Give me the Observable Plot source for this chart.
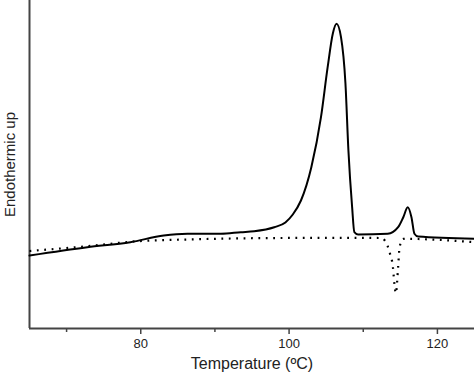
<!DOCTYPE html>
<html>
<head>
<meta charset="utf-8">
<script src="https://cdn.jsdelivr.net/npm/d3@7"></script>
<script src="https://cdn.jsdelivr.net/npm/@observablehq/plot@0.6"></script>
<style>
  html, body { margin: 0; padding: 0; background: #fff; }
  #chart { width: 474px; height: 377px; }
</style>
</head>
<body>
<div id="chart"></div>
<script>
// Heating scan (solid)
const heatT = [65.0, 72.8, 78.6, 83.1, 86.3, 90.8, 93.5, 95.3, 98.0, 99.5, 100.5, 101.6, 103.0, 104.3, 105.2, 105.9, 106.4, 107.0, 107.6, 108.0, 108.5, 108.8, 109.3, 113.3, 114.7, 115.4, 116.0, 116.5, 116.9, 117.4, 125.0];
const heatQ = [73, 81.3, 86.3, 93, 94.7, 94.7, 96.3, 97.3, 101.3, 106, 114, 128, 161.3, 211.3, 261.3, 295, 304.7, 291.3, 245, 178, 121.3, 96.3, 94, 94.7, 101.3, 111.3, 121.3, 111.3, 94.7, 92, 89.7];
// Second scan (dotted)
const dotT = [65.0, 72.8, 79.6, 86.3, 95.3, 107.0, 112.4, 112.9, 113.6, 114.0, 114.2, 114.4, 114.7, 114.9, 115.4, 125.0];
const dotQ = [77.5, 82.3, 87.3, 89, 90.3, 90.7, 90.5, 88, 75, 61.3, 44.7, 35.3, 61.3, 81.3, 89.7, 86.3];
const majorTicks = [80, 100, 120];
const minorTicks = [70, 90, 110];
const xLabel = "Temperature (ºC)";
const yLabel = "Endothermic up";

const heat = heatT.map((t, i) => ({t, q: heatQ[i]}));
const dots = dotT.map((t, i) => ({t, q: dotQ[i]}));

const chart = Plot.plot({
  width: 474,
  height: 377,
  marginLeft: 29,
  marginRight: 0,
  marginTop: 0,
  marginBottom: 49,
  style: {fontFamily: "'Liberation Sans', Arial, sans-serif", color: "#222", background: "#fff"},
  x: {domain: [65, 125]},
  y: {domain: [0, 328], axis: null},
  marks: [
    Plot.axisX({ticks: minorTicks, tickSize: 4, tickFormat: () => "", label: null, stroke: "#444", strokeWidth: 1.5}),
    Plot.axisX({ticks: majorTicks, tickSize: 6, tickPadding: 4, label: null, fontSize: 13, stroke: "#444", strokeWidth: 1.5}),
    Plot.ruleY([0], {stroke: "#444", strokeWidth: 2}),
    Plot.ruleX([65], {stroke: "#444", strokeWidth: 2}),
    Plot.line(dots, {x: "t", y: "q", stroke: "#000", strokeWidth: 2.2, strokeDasharray: "1.8,5.6", strokeLinecap: "butt", curve: "monotone-x"}),
    Plot.line(heat, {x: "t", y: "q", stroke: "#000", strokeWidth: 2, curve: "monotone-x"}),
    Plot.text([yLabel], {frameAnchor: "left", textAnchor: "middle", rotate: -90, dx: -19, fontSize: 15, fill: "#222"}),
    Plot.text([xLabel], {frameAnchor: "bottom", dy: 40, fontSize: 16, fill: "#222"})
  ]
});
document.getElementById("chart").appendChild(chart);
</script>
</body>
</html>
